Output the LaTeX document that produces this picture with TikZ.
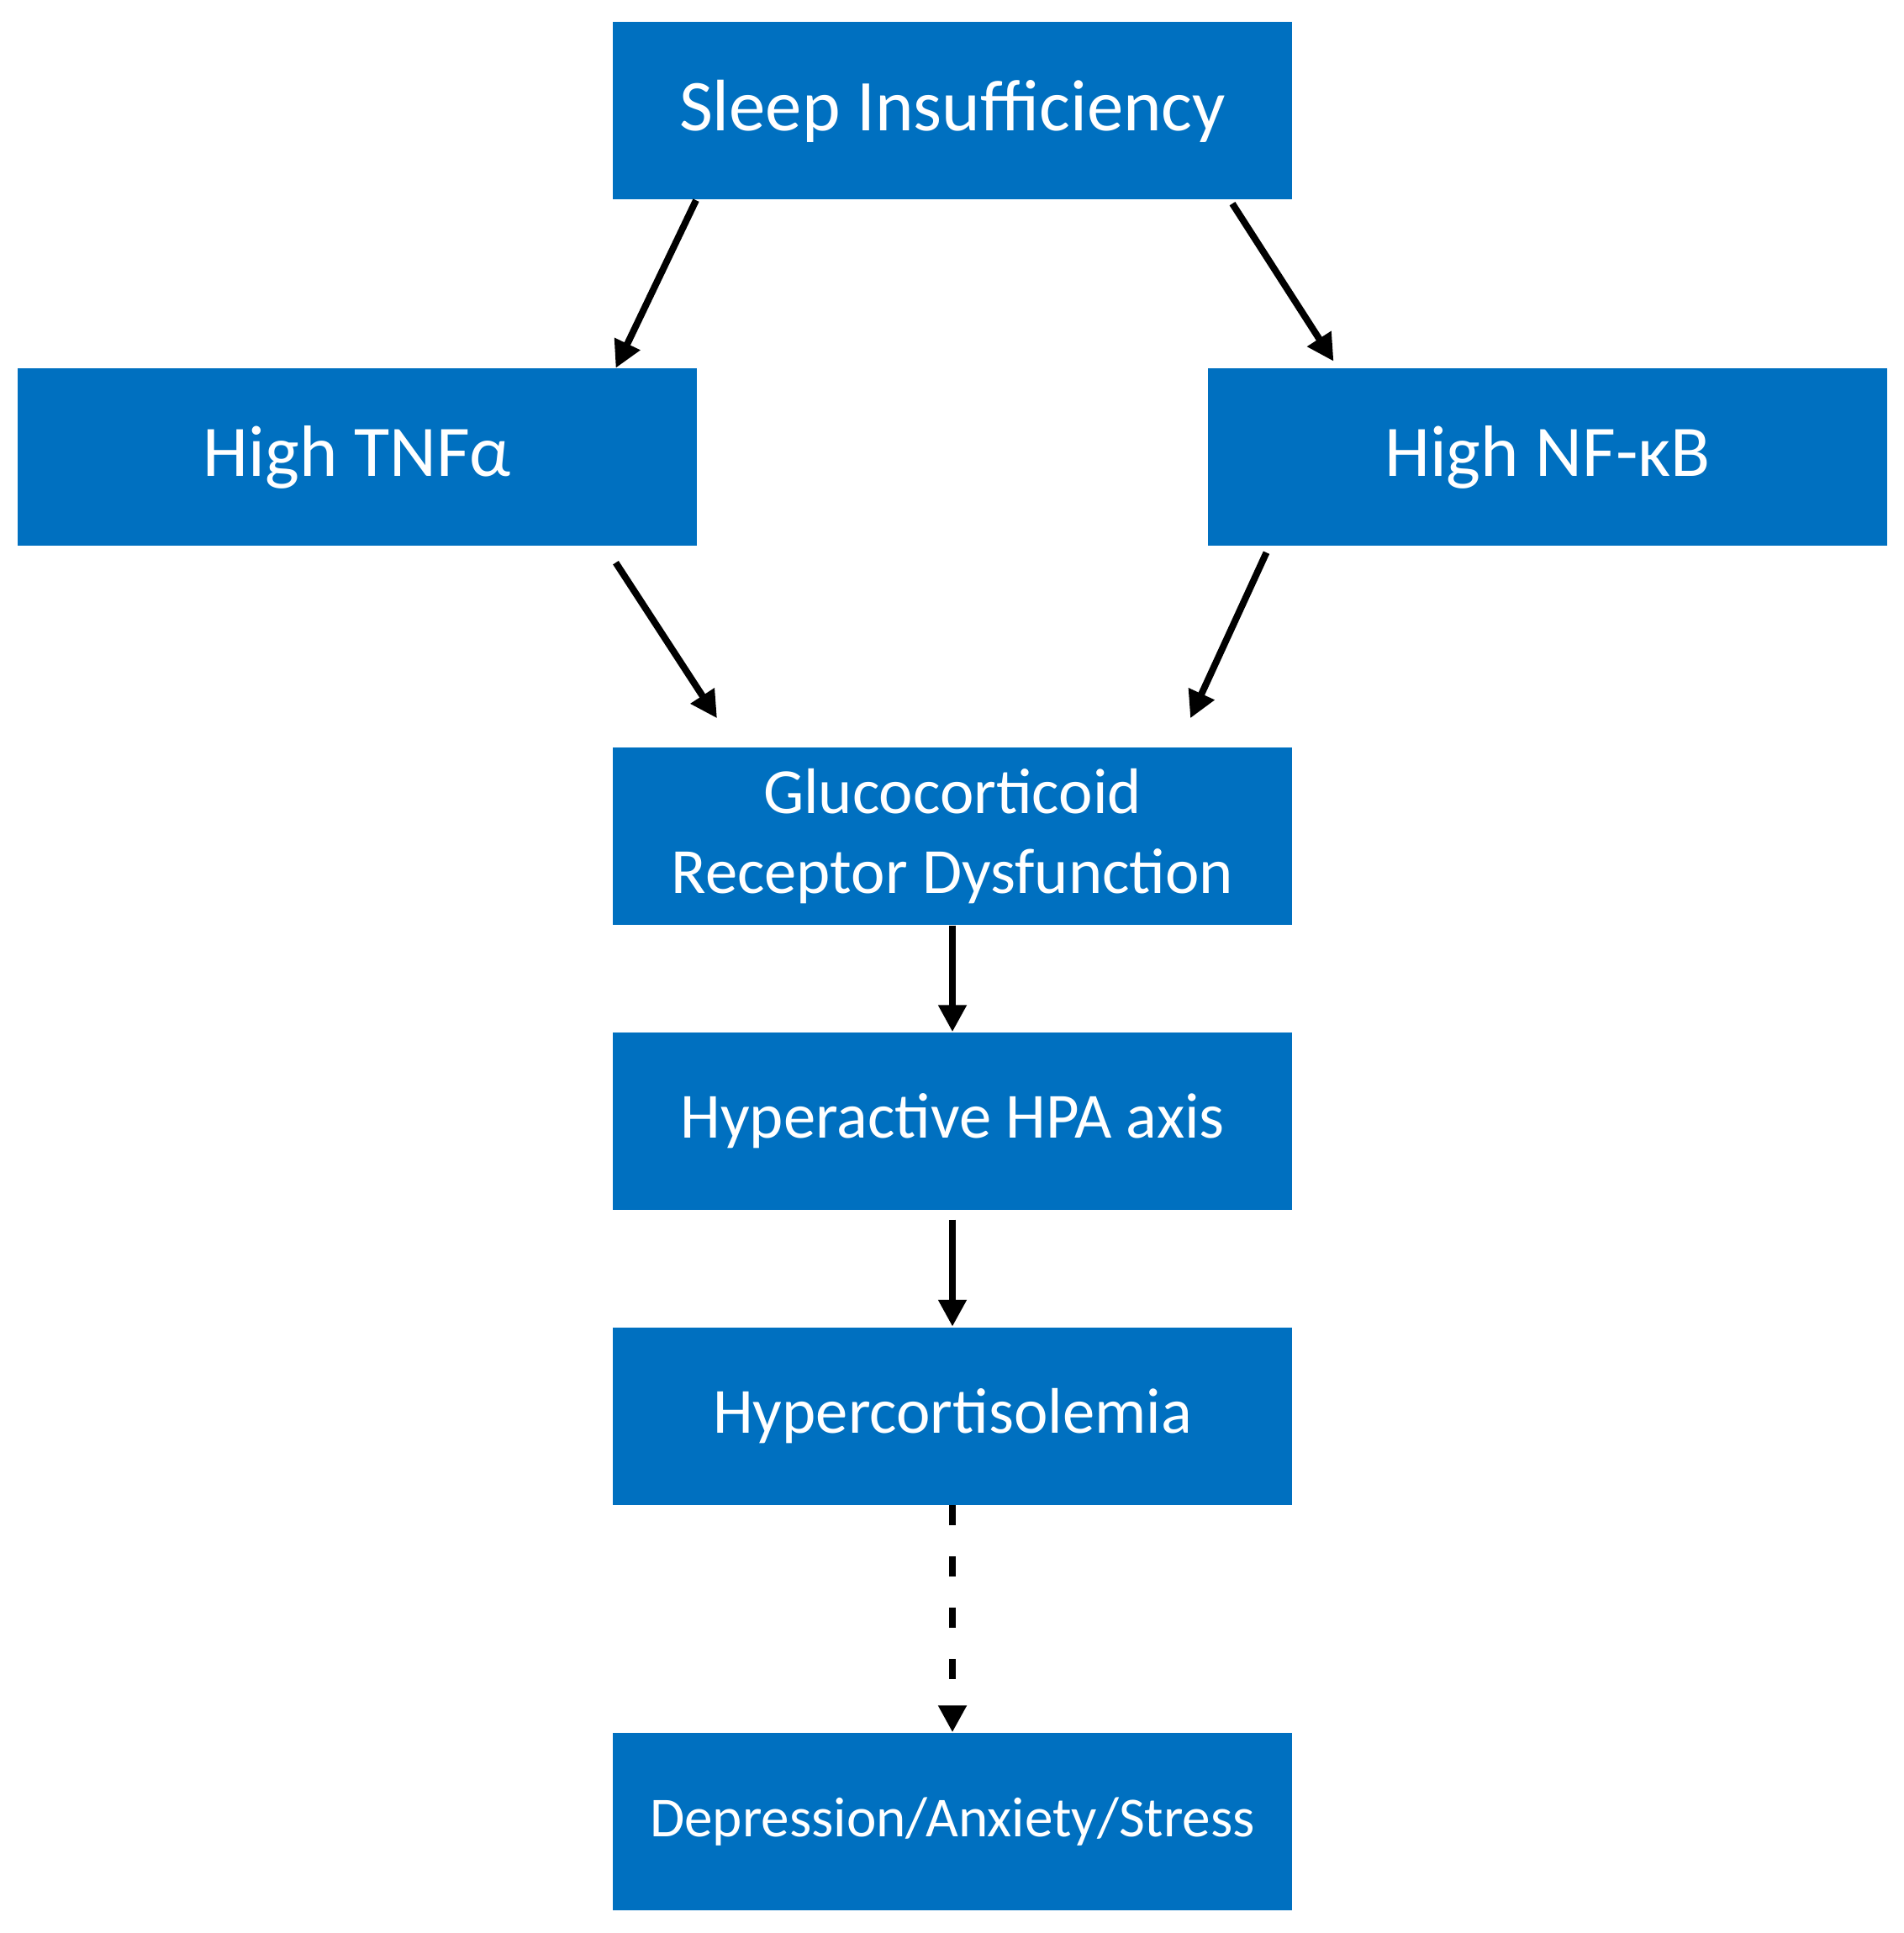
\documentclass[tikz,border=0pt]{standalone}
\usepackage{fontspec}
\setmainfont{Carlito}
\usetikzlibrary{positioning,arrows.meta}
\definecolor{boxblue}{HTML}{0070C0}

\begin{document}
\begin{tikzpicture}[node distance=3.4cm,on grid,
   box/.style={fill=boxblue,text=white,minimum width=8.08cm,minimum height=2.11cm,inner sep=0pt,align=center},
   arr/.style={-{Triangle[length=0.32cm,width=0.32cm]},line width=0.08cm}]
   \useasboundingbox (0,0) rectangle (22.64,-22.99);
   \node[box,font=\fontsize{24.7}{28}\selectfont] (sleep) at (11.33,-1.32) {Sleep Insufficiency};
   \node[box,font=\fontsize{24.6}{28}\selectfont] (tnf) [below left=4.12cm and 7.08cm of sleep] {High TNFα};
   \node[box,font=\fontsize{24.6}{28}\selectfont] (nfkb) [below right=4.12cm and 7.08cm of sleep] {High NF-κB};
   \node[box,font=\fontsize{21.8}{27}\selectfont] (gluco) [below=8.625cm of sleep] {Glucocorticoid\\Receptor Dysfunction};
   \node[box,font=\fontsize{21.8}{27}\selectfont] (hpa) [below=3.39cm of gluco] {Hyperactive HPA axis};
   \node[box,font=\fontsize{21.8}{27}\selectfont] (cort) [below=3.505cm of hpa] {Hypercortisolemia};
   \node[box,font=\fontsize{19.1}{24}\selectfont] (mood) [below=4.825cm of cort] {Depression/Anxiety/Stress};
   % arrows
   \draw[arr] ([xshift=-3.05cm]sleep.south) -- ([xshift=3.075cm]tnf.north);
   \draw[arr] ([xshift=3.33cm,yshift=-0.04cm]sleep.south) -- ([xshift=-2.545cm,yshift=0.08cm]nfkb.north);
   \draw[arr] ([xshift=3.075cm,yshift=-0.19cm]tnf.south) -- ([xshift=-2.8cm,yshift=0.34cm]gluco.north);
   \draw[arr] ([xshift=-3.345cm,yshift=-0.07cm]nfkb.south) -- ([xshift=2.83cm,yshift=0.34cm]gluco.north);
   \draw[arr] (gluco) -- (hpa);
   \draw[arr] ([yshift=-0.11cm]hpa.south) -- (cort.north);
   \draw[arr,dash pattern=on 0.24cm off 0.37cm] (cort) -- (mood);
\end{tikzpicture}
\end{document}
